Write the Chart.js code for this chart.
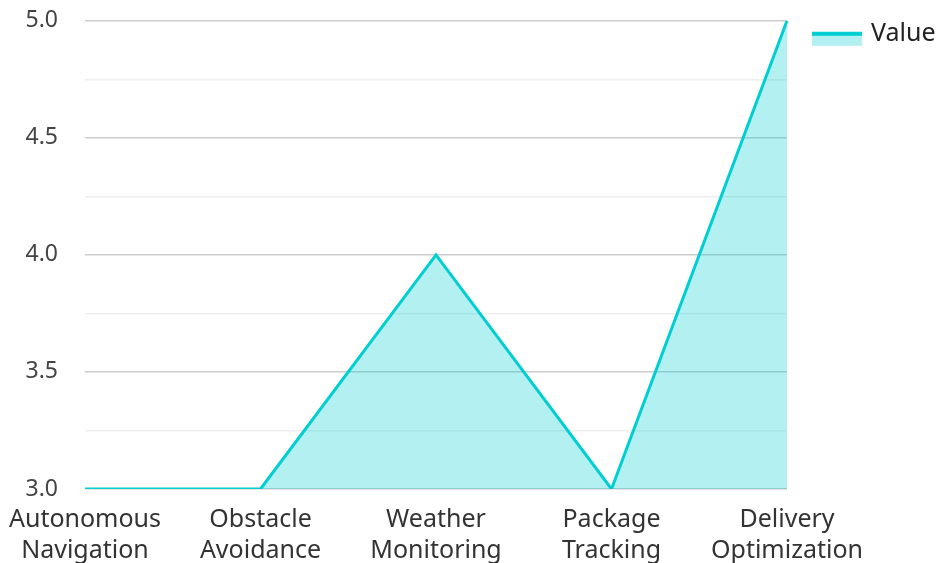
<!DOCTYPE html>
<html>
<head>
<meta charset="utf-8">
<script src="https://cdn.jsdelivr.net/npm/chart.js@4.4.1/dist/chart.umd.min.js"></script>
<style>
  html, body { margin: 0; padding: 0; background: #fff; }
  #wrap { width: 936px; height: 563px; position: relative; }
</style>
</head>
<body>
<div id="wrap"><canvas id="myChart"></canvas></div>
<script>
    // chart data
    const categories = [
        ['Autonomous', 'Navigation'],
        ['Obstacle', 'Avoidance'],
        ['Weather', 'Monitoring'],
        ['Package', 'Tracking'],
        ['Delivery', 'Optimization']
    ];
    const values = [3, 3, 4, 3, 5];
    const seriesName = 'Value';

    const lineColor = '#00CED1';
    const fillColor = 'rgba(0, 206, 209, 0.3)';

    // legend drawn by hand: line over a filled box, then the series name
    const sideLegend = {
        id: 'sideLegend',
        afterDraw(chart) {
            const c = chart.ctx;
            const x = chart.chartArea.right + 25;
            const y = chart.chartArea.top + 11;
            c.save();
            c.fillStyle = fillColor;
            c.fillRect(x, y, 50, 14);
            c.fillStyle = lineColor;
            c.fillRect(x, y, 50, 4);
            c.fillStyle = '#222';
            c.font = '25px "Noto Sans"';
            c.textBaseline = 'middle';
            c.fillText(chart.data.datasets[0].label, x + 59, y + 2);
            c.restore();
        }
    };

    const ctx = document.getElementById('myChart').getContext('2d');
    const myChart = new Chart(ctx, {
        type: 'line',
        data: {
            labels: categories,
            datasets: [{
                label: seriesName,
                data: values,
                borderColor: lineColor,
                borderWidth: 3,
                backgroundColor: fillColor,
                fill: 'start',
                pointRadius: 0,
                tension: 0
            }]
        },
        options: {
            responsive: true,
            maintainAspectRatio: false,
            animation: false,
            layout: { padding: { left: 0, right: 149, top: 0, bottom: 0 } },
            plugins: {
                tooltip: { enabled: false },
                legend: { display: false }
            },
            scales: {
                x: {
                    grid: { display: false },
                    border: { display: false },
                    ticks: {
                        color: '#333',
                        font: { family: 'Noto Sans', size: 25, lineHeight: 1.25 },
                        maxRotation: 0,
                        autoSkip: false,
                        padding: 7
                    },
                    afterFit: s => {
                        s.height = 74;
                        s.paddingLeft = 85;
                    }
                },
                y: {
                    min: 3,
                    max: 5,
                    border: { display: false },
                    grid: {
                        drawTicks: true,
                        tickLength: 20,
                        tickColor: 'transparent',
                        lineWidth: 1.5,
                        color: c => (Math.round(c.tick.value * 100) % 50 === 0 ? '#cccccc' : '#eeeeee')
                    },
                    ticks: {
                        stepSize: 0.25,
                        padding: 7,
                        color: '#444',
                        font: { family: 'Noto Sans', size: 23 },
                        callback: v => (Math.round(v * 100) % 50 === 0 ? v.toFixed(1) : '')
                    }
                }
            }
        },
        plugins: [sideLegend]
    });
</script>
</body>
</html>
